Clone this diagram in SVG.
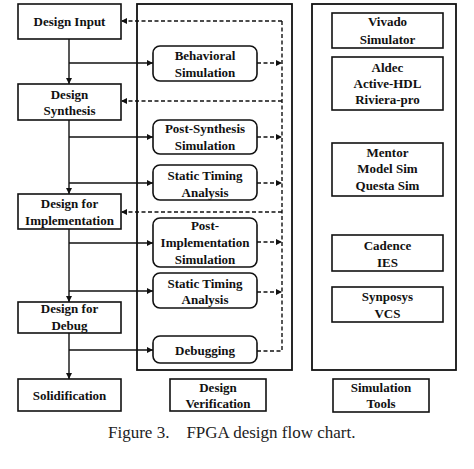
<svg xmlns="http://www.w3.org/2000/svg" width="474" height="469" viewBox="0 0 474 469">
<defs>
<style>
.b{fill:#fff;stroke:#111;stroke-width:1.6}
.o{fill:none;stroke:#111;stroke-width:1.8}
.t{font-family:"Liberation Serif","Times New Roman",serif;font-weight:bold;font-size:13px;fill:#111;text-anchor:middle}
.s{fill:none;stroke:#111;stroke-width:1.4}
.d{fill:none;stroke:#111;stroke-width:1.4;stroke-dasharray:4 2.5}
.cap{font-family:"Liberation Serif","Times New Roman",serif;font-size:17px;fill:#222}
</style>
<marker id="a" markerWidth="7" markerHeight="7" refX="6" refY="3.5" orient="auto" markerUnits="userSpaceOnUse">
<path d="M0,0.5 L6,3.5 L0,6.5 Z" fill="#111"/>
</marker>
</defs>
<rect width="474" height="469" fill="#fff"/>

<g id="containers">
<rect class="o" x="137" y="4" width="155" height="366"/>
<rect class="o" x="312" y="4" width="144" height="366"/>
</g>

<g id="connectors">
<path class="s" d="M69,39 V84" marker-end="url(#a)"/>
<path class="s" d="M69,120 V194" marker-end="url(#a)"/>
<path class="s" d="M69,229 V302" marker-end="url(#a)"/>
<path class="s" d="M69,333 V379" marker-end="url(#a)"/>
<path class="s" d="M69,63 H153" marker-end="url(#a)"/>
<path class="s" d="M69,137 H153" marker-end="url(#a)"/>
<path class="s" d="M69,183 H153" marker-end="url(#a)"/>
<path class="s" d="M69,243 H153" marker-end="url(#a)"/>
<path class="s" d="M69,291 H153" marker-end="url(#a)"/>
<path class="s" d="M69,350 H153" marker-end="url(#a)"/>
<path class="d" d="M282,21 V351"/>
<path class="d" d="M282,21 H121" marker-end="url(#a)"/>
<path class="d" d="M282,101 H121" marker-end="url(#a)"/>
<path class="d" d="M282,212 H121" marker-end="url(#a)"/>
<path class="d" d="M257,63 H282" marker-end="url(#a)"/>
<path class="d" d="M257,137 H282" marker-end="url(#a)"/>
<path class="d" d="M257,183 H282" marker-end="url(#a)"/>
<path class="d" d="M257,242 H282" marker-end="url(#a)"/>
<path class="d" d="M257,292 H282" marker-end="url(#a)"/>
<path class="d" d="M257,351 H282"/>
</g>

<g id="design-input"><rect class="b" x="18" y="4" width="103" height="35"/><text class="t" x="69.5" y="26">Design Input</text></g>
<g id="design-synthesis"><rect class="b" x="18" y="84" width="103" height="36"/><text class="t" x="69.5" y="99">Design</text><text class="t" x="69.5" y="115">Synthesis</text></g>
<g id="design-implementation"><rect class="b" x="18" y="194" width="103" height="35"/><text class="t" x="69.5" y="208">Design for</text><text class="t" x="69.5" y="225">Implementation</text></g>
<g id="design-debug"><rect class="b" x="18" y="302" width="103" height="31"/><text class="t" x="69.5" y="313">Design for</text><text class="t" x="69.5" y="330">Debug</text></g>
<g id="solidification"><rect class="b" x="18" y="379" width="103" height="32"/><text class="t" x="69.5" y="400">Solidification</text></g>

<g id="behavioral-sim"><rect class="b" x="153" y="46" width="104" height="35" rx="7"/><text class="t" x="205" y="60">Behavioral</text><text class="t" x="205" y="77">Simulation</text></g>
<g id="post-synthesis-sim"><rect class="b" x="153" y="120" width="104" height="34" rx="7"/><text class="t" x="205" y="133">Post-Synthesis</text><text class="t" x="205" y="150">Simulation</text></g>
<g id="sta-1"><rect class="b" x="153" y="165" width="104" height="35" rx="7"/><text class="t" x="205" y="180">Static Timing</text><text class="t" x="205" y="197">Analysis</text></g>
<g id="post-impl-sim"><rect class="b" x="153" y="218" width="104" height="49" rx="7"/><text class="t" x="205" y="230">Post-</text><text class="t" x="205" y="247">Implementation</text><text class="t" x="205" y="264">Simulation</text></g>
<g id="sta-2"><rect class="b" x="153" y="273" width="104" height="35" rx="7"/><text class="t" x="205" y="288">Static Timing</text><text class="t" x="205" y="304">Analysis</text></g>
<g id="debugging"><rect class="b" x="153" y="336" width="104" height="27" rx="7"/><text class="t" x="205" y="355">Debugging</text></g>
<g id="design-verification"><rect class="b" x="170" y="379" width="96" height="32"/><text class="t" x="218" y="392">Design</text><text class="t" x="218" y="408">Verification</text></g>

<g id="vivado"><rect class="b" x="332" y="13" width="111" height="35"/><text class="t" x="387.5" y="26">Vivado</text><text class="t" x="387.5" y="44">Simulator</text></g>
<g id="aldec"><rect class="b" x="332" y="57" width="111" height="53"/><text class="t" x="387.5" y="72">Aldec</text><text class="t" x="387.5" y="88">Active-HDL</text><text class="t" x="387.5" y="104">Riviera-pro</text></g>
<g id="mentor"><rect class="b" x="332" y="143" width="111" height="53"/><text class="t" x="387.5" y="157">Mentor</text><text class="t" x="387.5" y="173">Model Sim</text><text class="t" x="387.5" y="190">Questa Sim</text></g>
<g id="cadence"><rect class="b" x="332" y="235" width="111" height="36"/><text class="t" x="387.5" y="250">Cadence</text><text class="t" x="387.5" y="267">IES</text></g>
<g id="synopsys"><rect class="b" x="332" y="287" width="111" height="35"/><text class="t" x="387.5" y="301">Synposys</text><text class="t" x="387.5" y="318">VCS</text></g>
<g id="simulation-tools"><rect class="b" x="333" y="379" width="96" height="33"/><text class="t" x="381" y="392">Simulation</text><text class="t" x="381" y="408">Tools</text></g>

<text class="cap" x="108" y="438" xml:space="preserve">Figure 3.    FPGA design flow chart.</text>
</svg>
